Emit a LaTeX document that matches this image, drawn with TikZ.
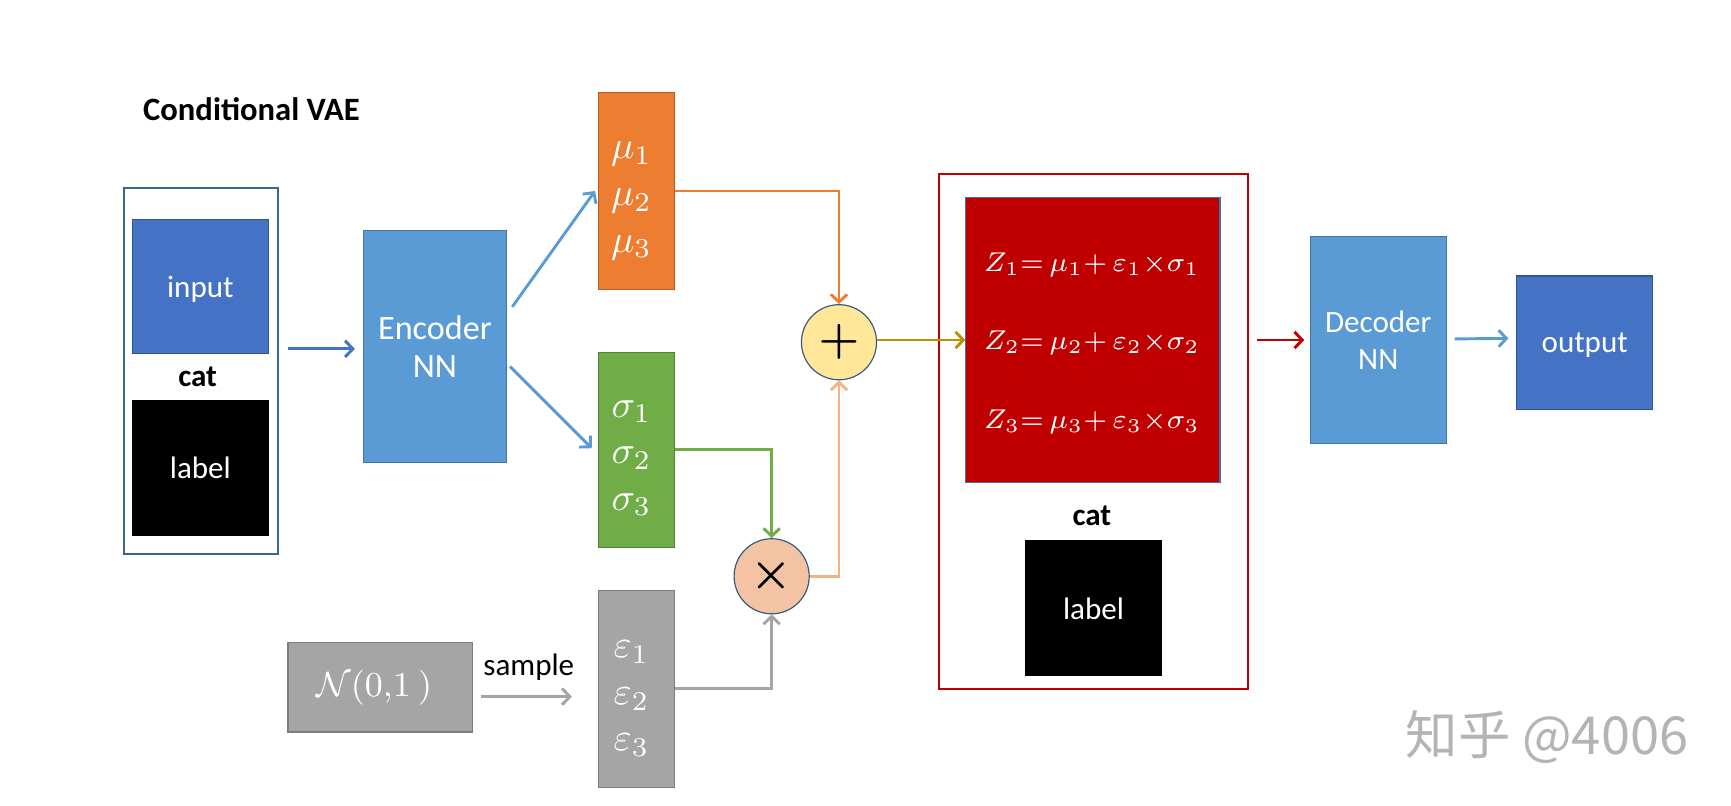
\documentclass[tikz,border=0pt]{standalone}
\usepackage{fontspec}
\setmainfont{Carlito}
\newfontfamily\cjk{Noto Sans CJK SC}
\usetikzlibrary{arrows.meta,calc}

\definecolor{inblue}{HTML}{4472C4}
\definecolor{nnblue}{HTML}{5B9BD5}
\definecolor{muorange}{HTML}{ED7D31}
\definecolor{siggreen}{HTML}{70AD47}
\definecolor{epsgray}{HTML}{A5A5A5}
\definecolor{zred}{HTML}{C00000}
\definecolor{plusyellow}{HTML}{FFE699}
\definecolor{timespeach}{HTML}{F4C3A3}
\definecolor{sumolive}{HTML}{BF9000}
\definecolor{prodpeach}{HTML}{F4B183}
\definecolor{edgeblue}{HTML}{41719C}
\definecolor{waterg}{HTML}{B4B4B4}

\tikzset{
	x=0.01cm, y=-0.01cm,
	fbox/.style={draw=#1!75!black, line width=0.3pt, fill=#1, inner sep=0, text=white, text depth=0pt, align=center, font=\fontsize{8}{9.4}\selectfont},
	frame/.style={draw=#1, line width=0.5pt, inner sep=0},
	opcirc/.style={circle, draw=edgeblue!80!black, line width=0.3pt, fill=#1, inner sep=0, minimum size=0.68cm, font=\fontsize{12}{12}\selectfont\boldmath},
	conn/.style={draw=#1, line width=0.75pt, -{Straight Barb[length=2pt,width=4.2pt]}},
	boldtxt/.style={inner sep=0, font=\fontsize{8}{9}\selectfont\bfseries},
}

\newcommand{\fillnode}[7] {
	\node[fbox=#6, minimum width=#4 cm, minimum height=#5 cm] (#1) at (#2,#3) {#7};
}
\newcommand{\stacktxt}[3] {
	\node[inner sep=0, text=white, align=left, font=\fontsize{10}{12}\selectfont] (#1) at (#2) {#3};
}

\begin{document}
\begin{tikzpicture}
	\useasboundingbox (0,0) rectangle (1568,730);

	\node[boldtxt, font=\fontsize{8.4}{9}\selectfont\bfseries, anchor=west] (title) at (129,99) {Conditional VAE};

	% input side
	\node[frame=edgeblue!90!black, minimum width=1.40cm, minimum height=3.32cm] (inframe) at (182,336) {};
	\fillnode{input}{181.5}{259.5}{1.23}{1.21}{inblue}{input}
	\node[boldtxt] (catin) at (179,341) {cat};
	\fillnode{labelin}{181.5}{424}{1.23}{1.22}{black}{label}

	\node[fbox=nnblue, font=\fontsize{8.8}{9.7}\selectfont, minimum width=1.30cm, minimum height=2.10cm] (enc) at (394,314) {Encoder\\NN};

	% latent columns
	\fillnode{mu}{576.5}{173}{0.69}{1.78}{muorange}{}
	\fillnode{sig}{576.5}{407.5}{0.69}{1.77}{siggreen}{}
	\fillnode{eps}{576.5}{624}{0.69}{1.78}{epsgray}{}
	\stacktxt{mutxt}{572,182}{$\mu_1$\\$\mu_2$\\$\mu_3$}
	\stacktxt{sigtxt}{572,415}{$\sigma_1$\\$\sigma_2$\\$\sigma_3$}
	\stacktxt{epstxt}{572,633}{$\varepsilon_1$\\$\varepsilon_2$\\$\varepsilon_3$}

	\fillnode{noise}{344.5}{622.5}{1.67}{0.81}{epsgray}{}
	\node[inner sep=0, text=white, font=\fontsize{8.6}{11}\selectfont] (noisetxt) at (339,623) {$\mathcal{N}(0,\!1\ )$};
	\node[inner sep=0, font=\fontsize{8}{9}\selectfont] (sample) at (479,604) {sample};

	\node[opcirc=plusyellow] (plus) at (760,310) {$+$};
	\node[opcirc=timespeach] (times) at (699,522) {$\times$};

	% latent output
	\node[frame=zred, minimum width=2.79cm, minimum height=4.66cm] (zframe) at (990.5,391) {};
	\node[fbox=zred, draw=edgeblue, minimum width=2.30cm, minimum height=2.58cm] (z) at (990,308) {};
	\node[inner sep=0, text=white, align=center, font=\fontsize{7.5}{20.2}\selectfont] (ztxt) at (989,311) {$Z_1{=}\,\mu_1{+}\,\varepsilon_1{\times}\sigma_1$\\$Z_2{=}\,\mu_2{+}\,\varepsilon_2{\times}\sigma_2$\\$Z_3{=}\,\mu_3{+}\,\varepsilon_3{\times}\sigma_3$};
	\node[boldtxt] (catout) at (989,467) {cat};
	\fillnode{labelout}{990.5}{551}{1.23}{1.22}{black}{label}

	\fillnode{dec}{1248.5}{308}{1.23}{1.88}{nnblue}{Decoder\\NN}
	\fillnode{out}{1435.5}{310.5}{1.23}{1.21}{inblue}{output}

	% free ends
	\coordinate (inarrow) at (261,316);
	\coordinate (encup) at (464,278);
	\coordinate (muin) at (539,173);
	\coordinate (encdown) at (462,332);
	\coordinate (sigin) at (536,406);
	\coordinate (samplefrom) at (436,631);
	\coordinate (sampleto) at (518,631);
	\coordinate (zarrow) at (1139,308);

	\draw[conn=inblue] (inarrow) -- ($(enc.west |- inarrow)+(-7,0)$);
	\draw[conn=nnblue] (encup) -- (muin);
	\draw[conn=nnblue] (encdown) -- (sigin);
	\draw[conn=muorange] (mu.east) -| (plus.north);
	\draw[conn=siggreen] (sig.east) -| (times.north);
	\draw[conn=epsgray] (eps.east) -| (times.south);
	\draw[conn=prodpeach] (times.east) -| (plus.south);
	\draw[conn=epsgray] (samplefrom) -- (sampleto);
	\draw[conn=sumolive] (plus.east) ++(0,-2) -- (z.west);
	\draw[conn=zred] (zarrow) -- ($(dec.west)+(-5,0)$);
	\draw[conn=nnblue] ($(dec.east)+(7,-1)$) -- ($(out.west)+(-7,-4)$);

	\node[inner sep=0, text=waterg, font=\cjk\fontsize{13.5}{13.5}\selectfont, anchor=east] (mark) at (1530,668) {知乎 @4006};
\end{tikzpicture}
\end{document}
